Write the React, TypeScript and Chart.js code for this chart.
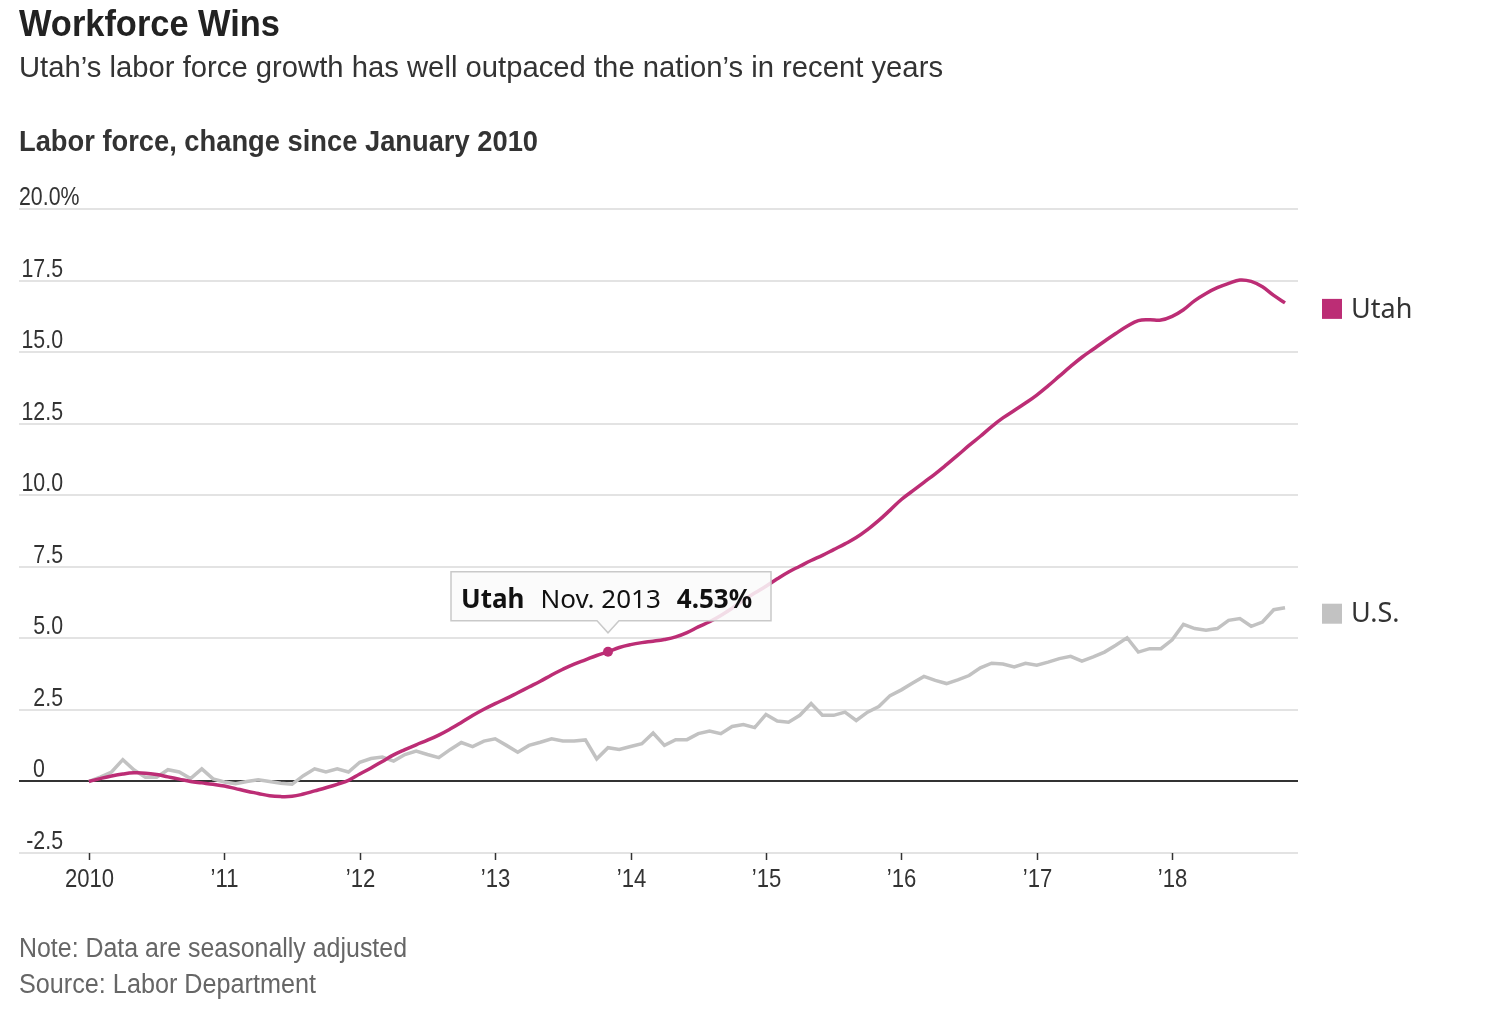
import React, { useEffect, useRef } from "react";
import { Chart, registerables } from "chart.js";

Chart.register(...registerables);

// ---------- data ----------
const SERIES_NAMES = ["Utah", "U.S."];
const X_TICK_LABELS = ["2010", "’11", "’12", "’13", "’14", "’15", "’16", "’17", "’18"];
const MONTHS_PER_TICK = 12;

// Labor force, % change since Jan 2010, monthly Jan 2010 – Nov 2018
const UTAH = [
  0.0, 0.1, 0.19, 0.26, 0.3, 0.29, 0.24, 0.16, 0.08, 0.0, -0.05, -0.1,
  -0.16, -0.25, -0.34, -0.42, -0.5, -0.53, -0.52, -0.44, -0.33, -0.22, -0.1, 0.04,
  0.26, 0.47, 0.7, 0.93, 1.11, 1.28, 1.44, 1.62, 1.83, 2.06, 2.3, 2.52,
  2.72, 2.9, 3.1, 3.3, 3.5, 3.72, 3.92, 4.1, 4.25, 4.4, 4.53, 4.68,
  4.78, 4.85, 4.9, 4.96, 5.05, 5.2, 5.4, 5.58, 5.8, 6.05, 6.33, 6.58,
  6.82, 7.08, 7.32, 7.52, 7.72, 7.9, 8.1, 8.3, 8.52, 8.8, 9.12, 9.48,
  9.85, 10.15, 10.45, 10.75, 11.07, 11.4, 11.74, 12.06, 12.4, 12.7, 12.96, 13.22,
  13.5, 13.82, 14.16, 14.5, 14.82, 15.1, 15.38, 15.65, 15.9, 16.1, 16.13, 16.12,
  16.25, 16.48, 16.8, 17.05, 17.25, 17.4, 17.52, 17.47, 17.28, 16.98, 16.72,
];

const US = [
  0.0, 0.15, 0.33, 0.76, 0.4, 0.15, 0.15, 0.41, 0.33, 0.1, 0.44, 0.09,
  -0.02, -0.08, 0.0, 0.06, 0.0, -0.06, -0.1, 0.2, 0.44, 0.33, 0.44, 0.33,
  0.67, 0.8, 0.85, 0.71, 0.94, 1.06, 0.94, 0.83, 1.11, 1.36, 1.22, 1.41,
  1.49, 1.26, 1.02, 1.26, 1.37, 1.49, 1.41, 1.41, 1.45, 0.79, 1.18, 1.12,
  1.22, 1.32, 1.69, 1.26, 1.46, 1.46, 1.67, 1.76, 1.67, 1.92, 1.99, 1.88,
  2.34, 2.11, 2.07, 2.31, 2.72, 2.31, 2.31, 2.42, 2.13, 2.42, 2.62, 3.0,
  3.2, 3.44, 3.67, 3.53, 3.42, 3.55, 3.7, 3.97, 4.13, 4.1, 4.0, 4.13,
  4.06, 4.17, 4.29, 4.37, 4.2, 4.35, 4.52, 4.76, 5.02, 4.52, 4.64, 4.64,
  4.95, 5.49, 5.34, 5.28, 5.34, 5.63, 5.69, 5.42, 5.57, 6.0, 6.07,
];

const HIGHLIGHT_INDEX = 46;
const HIGHLIGHT_LABEL = "Nov. 2013";

const TITLE = "Workforce Wins";
const SUBTITLE = "Utah’s labor force growth has well outpaced the nation’s in recent years";
const AXIS_LABEL = "Labor force, change since January 2010";
const NOTE = "Note: Data are seasonally adjusted";
const SOURCE = "Source: Labor Department";

// ---------- styles ----------
const UTAH_COLOR = "#bc2d75";
const US_COLOR = "#c2c2c2";
const TEXT_COLOR = "#333333";
const SANS = '"Liberation Sans", Arial, sans-serif';
const NOTO = '"Noto Sans", "Open Sans", sans-serif';
const NARROW = 0.82;

const measureCtx: CanvasRenderingContext2D | null =
  typeof document !== "undefined" ? document.createElement("canvas").getContext("2d") : null;

function FitText(props: {
  text: string; x: number; baseline: number; size: number; weight: number;
  color: string; width: number;
}) {
  const { text, x, baseline, size, weight, color, width } = props;
  let k = 1;
  if (measureCtx) {
    measureCtx.font = `${weight} ${size}px ${SANS}`;
    const w = measureCtx.measureText(text).width;
    if (w > 0) k = width / w;
  }
  return (
    <div
      style={{
        position: "absolute",
        left: x,
        top: baseline - 0.8465 * size,
        fontFamily: SANS,
        fontSize: size,
        lineHeight: `${size}px`,
        fontWeight: weight,
        color,
        whiteSpace: "nowrap",
        transform: `scaleX(${k})`,
        transformOrigin: "0 0",
      }}
    >
      {text}
    </div>
  );
}

function narrowText(
  ctx: CanvasRenderingContext2D, text: string, x: number, y: number,
  align: CanvasTextAlign, k: number
) {
  ctx.save();
  ctx.translate(x, y);
  ctx.scale(k, 1);
  ctx.textAlign = align;
  ctx.textBaseline = "alphabetic";
  ctx.fillText(text, 0, 0);
  ctx.restore();
}

const overlayPlugin = {
  id: "wsjOverlay",
  afterDraw(chart: any) {
    const ctx: CanvasRenderingContext2D = chart.ctx;
    const xs = chart.scales.x;
    const ys = chart.scales.y;
    const area = chart.chartArea;

    // y tick labels
    ctx.save();
    ctx.fillStyle = TEXT_COLOR;
    ctx.font = `400 26px ${SANS}`;
    ys.ticks.forEach((t: any) => {
      const v = t.value;
      const py = ys.getPixelForValue(v) - 4;
      if (v === ys.max) {
        narrowText(ctx, v.toFixed(1) + "%", 19, py, "left", NARROW);
      } else if (v === 0) {
        narrowText(ctx, "0", 33, py, "left", NARROW);
      } else {
        narrowText(ctx, v.toFixed(1), 63, py, "right", NARROW);
      }
    });

    // x tick marks and labels
    ctx.strokeStyle = "#333";
    ctx.lineWidth = 1.5;
    X_TICK_LABELS.forEach((lab, i) => {
      const px = Math.round(xs.getPixelForValue(i * MONTHS_PER_TICK)) + 0.5;
      ctx.beginPath();
      ctx.moveTo(px, area.bottom);
      ctx.lineTo(px, area.bottom + 7);
      ctx.stroke();
      narrowText(ctx, lab, px, area.bottom + 34, "center", 0.85);
    });
    ctx.restore();

    // legend at line ends
    const lastVals = [UTAH[UTAH.length - 1], US[US.length - 1]];
    const colors = [UTAH_COLOR, US_COLOR];
    ctx.save();
    SERIES_NAMES.forEach((name, i) => {
      const cy = ys.getPixelForValue(lastVals[i]) + 6;
      ctx.fillStyle = colors[i];
      ctx.fillRect(1322, cy - 10, 20, 20);
      ctx.fillStyle = TEXT_COLOR;
      ctx.font = `400 27px ${NOTO}`;
      ctx.textAlign = "left";
      ctx.textBaseline = "middle";
      ctx.fillText(name, 1351, cy + 1);
    });
    ctx.restore();

    // highlight tooltip
    const meta = chart.getDatasetMeta(0);
    const pt = meta.data[HIGHLIGHT_INDEX];
    if (pt) {
      const px = pt.x;
      const py = pt.y;
      const left = px - 157;
      const right = px + 163;
      const bottom = py - 31;
      const top = bottom - 49;
      const apexY = py - 19;
      ctx.save();
      ctx.beginPath();
      ctx.moveTo(left, top);
      ctx.lineTo(right, top);
      ctx.lineTo(right, bottom);
      ctx.lineTo(px + 11, bottom);
      ctx.lineTo(px, apexY);
      ctx.lineTo(px - 11, bottom);
      ctx.lineTo(left, bottom);
      ctx.closePath();
      ctx.fillStyle = "rgba(250,250,250,0.86)";
      ctx.fill();
      ctx.strokeStyle = "#c9c9c9";
      ctx.lineWidth = 1.5;
      ctx.stroke();

      const val = UTAH[HIGHLIGHT_INDEX].toFixed(2) + "%";
      const parts: [string, number][] = [
        [SERIES_NAMES[0], 700],
        [HIGHLIGHT_LABEL, 400],
        [val, 700],
      ];
      let tx = left + 10;
      const ty = bottom - 13;
      ctx.fillStyle = "#111";
      ctx.textAlign = "left";
      ctx.textBaseline = "alphabetic";
      parts.forEach(([s, w]) => {
        ctx.font = `${w} 26px ${NOTO}`;
        ctx.fillText(s, tx, ty);
        tx += ctx.measureText(s).width + 16;
      });
      ctx.restore();
    }
  },
};

function LineChart() {
  const ref = useRef<HTMLCanvasElement | null>(null);
  useEffect(() => {
    if (!ref.current) return;
    const chart = new Chart(ref.current, {
      type: "line",
      data: {
        datasets: [
          {
            label: SERIES_NAMES[0],
            data: UTAH.map((y, i) => ({ x: i, y })),
            borderColor: UTAH_COLOR,
            backgroundColor: UTAH_COLOR,
            borderWidth: 3.5,
            tension: 0.4,
            pointRadius: (c: any) => (c.dataIndex === HIGHLIGHT_INDEX ? 5 : 0),
            pointBackgroundColor: UTAH_COLOR,
            pointBorderWidth: 0,
            fill: false,
          },
          {
            label: SERIES_NAMES[1],
            data: US.map((y, i) => ({ x: i, y })),
            borderColor: US_COLOR,
            backgroundColor: US_COLOR,
            borderWidth: 3.5,
            tension: 0,
            pointRadius: 0,
            fill: false,
          },
        ],
      },
      options: {
        animation: false,
        responsive: false,
        maintainAspectRatio: false,
        layout: { padding: { left: 19, right: 196, top: 209, bottom: 159 } },
        plugins: {
          legend: { display: false },
          tooltip: { enabled: false },
          title: { display: false },
        },
        scales: {
          x: {
            type: "linear",
            min: -6.2,
            max: 107.15,
            ticks: { display: false },
            grid: { display: false },
            border: { display: false },
          },
          y: {
            min: -2.5,
            max: 20,
            ticks: { display: false, stepSize: 2.5 },
            grid: {
              color: (c: any) => (c.tick && c.tick.value === 0 ? "#333333" : "#e3e3e3"),
              lineWidth: 2,
              drawTicks: false,
            },
            border: { display: false },
          },
        },
      },
      plugins: [overlayPlugin],
    } as any);
    return () => chart.destroy();
  }, []);
  return (
    <canvas
      ref={ref}
      width={1494}
      height={1020}
      style={{ position: "absolute", left: 0, top: 0, width: 1494, height: 1020 }}
    />
  );
}

export default function App() {
  return (
    <div
      style={{
        position: "absolute",
        left: 0,
        top: 0,
        width: 1494,
        height: 1020,
        background: "#ffffff",
        overflow: "hidden",
      }}
    >
      <LineChart />
      <FitText text={TITLE} x={19} baseline={36} size={36} weight={700} color="#222" width={261} />
      <FitText text={SUBTITLE} x={19} baseline={77} size={30} weight={400} color={TEXT_COLOR} width={924} />
      <FitText text={AXIS_LABEL} x={19} baseline={152} size={29} weight={700} color={TEXT_COLOR} width={519} />
      <FitText text={NOTE} x={19} baseline={958} size={27} weight={400} color="#666" width={388} />
      <FitText text={SOURCE} x={19} baseline={994} size={27} weight={400} color="#666" width={297} />
    </div>
  );
}
